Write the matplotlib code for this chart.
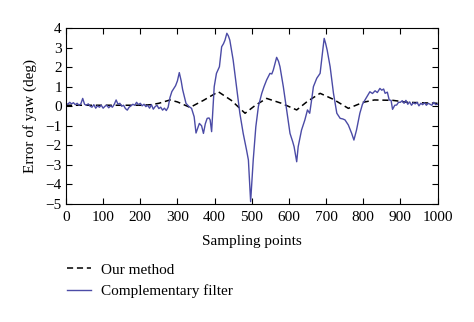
import matplotlib
matplotlib.use('Agg')
import matplotlib.pyplot as plt

plt.rcParams['font.family'] = ['Liberation Serif', 'DejaVu Serif']

# Complementary filter error
cf_x = [0, 5, 10, 15, 20, 25, 30, 35, 40, 45, 50, 55, 60, 65, 70, 75, 80, 85, 90, 95,
        100, 105, 110, 115, 120, 125, 130, 135, 140, 145, 150, 155, 160, 165, 170, 175,
        180, 185, 190, 195, 200, 205, 210, 215, 220, 225, 230, 235, 240, 245, 250, 255,
        260, 265, 270, 275, 280, 285, 290, 295, 300, 305, 310, 314, 323, 330, 338, 345,
        350, 355, 359, 365, 370, 375, 380, 385, 388, 392, 399, 405, 410, 413, 419, 424,
        428, 433, 437, 441, 450, 459, 468, 477, 486, 491, 497, 504, 511, 518, 527, 533,
        540, 549, 554, 558, 563, 567, 572, 576, 585, 594, 603, 610, 614, 618, 621, 625,
        634, 643, 650, 656, 661, 666, 675, 684, 688, 692, 695, 699, 703, 711, 720, 729,
        738, 745, 751, 760, 769, 775, 782, 791, 798, 805, 812, 818, 825, 832, 838, 845,
        850, 855, 859, 865, 870, 875, 879, 885, 890, 895, 900, 905, 910, 915, 920, 925,
        930, 935, 940, 945, 950, 955, 960, 965, 970, 975, 980, 985, 990, 995, 1000]
cf_y = [0.15, 0.1, 0.2, 0.12, 0.18, 0.08, 0.15, 0.05, 0.12, 0.4, 0.1, 0.05, 0.12, 0.0,
        -0.05, 0.08, -0.1, 0.02, -0.05, 0.05, -0.1, 0.0, 0.05, -0.08, 0.02, -0.05, 0.1,
        0.32, 0.1, 0.15, 0.0, 0.05, -0.12, -0.2, -0.05, 0.02, 0.1, 0.05, 0.2, 0.08, 0.15,
        0.02, 0.1, -0.02, 0.05, -0.1, 0.08, -0.15, -0.02, 0.05, -0.12, -0.05, -0.2, -0.1,
        -0.22, -0.05, 0.45, 0.75, 0.9, 1.05, 1.3, 1.72, 1.3, 0.85, 0.15, 0.0, -0.11, -0.54,
        -1.37, -1.1, -0.88, -1.0, -1.39, -0.9, -0.62, -0.6, -0.7, -1.3, 1.0, 1.68, 1.9,
        2.02, 3.04, 3.2, 3.38, 3.73, 3.6, 3.38, 2.36, 1.0, -0.36, -1.39, -2.24, -2.75,
        -4.88, -2.75, -1.05, 0.0, 0.66, 1.0, 1.34, 1.68, 1.65, 1.85, 2.2, 2.5, 2.3, 2.02,
        1.0, -0.19, -1.39, -1.8, -2.07, -2.5, -2.84, -2.07, -1.22, -0.7, -0.19, -0.36, 0.3,
        1.0, 1.43, 1.68, 2.36, 3.0, 3.47, 3.2, 2.87, 2.02, 0.66, -0.36, -0.62, -0.65, -0.7,
        -0.96, -1.39, -1.73, -1.22, -0.36, 0.1, 0.32, 0.55, 0.74, 0.65, 0.79, 0.7, 0.91,
        0.82, 0.88, 0.66, 0.72, 0.32, 0.3, -0.16, 0.05, 0.06, 0.2, 0.2, 0.28, 0.15, 0.3,
        0.1, 0.22, 0.05, 0.18, 0.12, 0.2, 0.02, 0.15, 0.08, 0.18, 0.05, 0.15, 0.1, 0.05,
        0.2, 0.08, 0.1]

# Our method error
om_x = [0, 100, 200, 230, 250, 280, 300, 334, 370, 410, 445, 482, 510, 540, 580, 621,
        650, 684, 720, 760, 800, 830, 880, 920, 1000]
om_y = [0.05, 0.05, 0.05, 0.08, 0.15, 0.32, 0.22, -0.06, 0.3, 0.74, 0.3, -0.36, 0.05,
        0.4, 0.15, -0.19, 0.25, 0.66, 0.35, -0.11, 0.2, 0.32, 0.3, 0.2, 0.15]

fig = plt.figure(figsize=(4.74, 3.22), dpi=100)
ax = fig.add_axes([0.1392, 0.3665, 0.7838, 0.5465])

ax.plot(om_x, om_y, color='black', linestyle='--', dashes=(4, 2.5), lw=1.1, label='Our method')
ax.plot(cf_x, cf_y, color='#4b4ba6', lw=1.0, label='Complementary filter')

ax.set_xlim(0, 1000)
ax.set_ylim(-5, 4)
ax.set_xticks(range(0, 1001, 100))
ax.set_yticks(range(-5, 5))
ax.tick_params(direction='in', top=True, right=True, labelsize=11, length=4)
ax.tick_params(axis='x', pad=5)
ax.tick_params(axis='y', pad=3)
ax.set_xlabel('Sampling points', fontsize=11, labelpad=8)
ax.set_ylabel('Error of yaw (deg)', fontsize=11, labelpad=6)

fig.legend(loc='upper left', bbox_to_anchor=(67 / 474, (322 - 263) / 322), frameon=False,
           fontsize=11, handlelength=1.6, handletextpad=0.65, labelspacing=0.5,
           borderpad=0, borderaxespad=0)

fig.savefig('out.png', dpi=100)
